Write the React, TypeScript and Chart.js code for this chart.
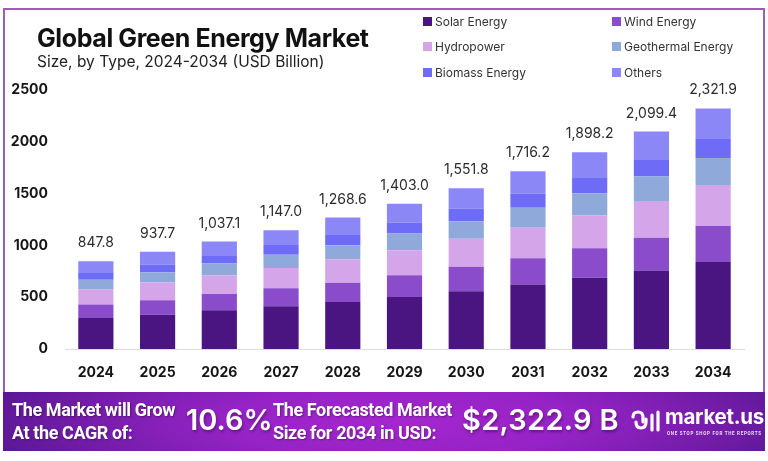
import React, { useEffect, useRef } from "react";
import { Chart, registerables } from "chart.js";

Chart.register(...registerables);

// Market size by type, USD billion
const years = ["2024", "2025", "2026", "2027", "2028", "2029", "2030", "2031", "2032", "2033", "2034"];
const solar = [300.3, 331.7, 373.1, 413.0, 454.6, 503.0, 556.8, 622.2, 688.2, 757.4, 838.9];
const wind = [130.0, 140.0, 157.0, 173.0, 184.0, 209.0, 238.0, 253.0, 284.0, 317.0, 348.0];
const hydro = [147.0, 170.0, 180.0, 196.0, 226.0, 240.0, 270.0, 294.0, 320.0, 354.0, 395.0];
const geothermal = [91.0, 98.0, 115.0, 127.0, 136.0, 162.0, 168.0, 195.0, 210.0, 236.0, 262.0];
const biomass = [72.0, 74.0, 81.0, 95.0, 107.0, 106.0, 124.0, 136.0, 155.0, 167.0, 183.0];
const others = [107.5, 124.0, 131.0, 143.0, 161.0, 183.0, 195.0, 216.0, 241.0, 268.0, 295.0];

const yTicks = [0, 500, 1000, 1500, 2000, 2500];

const seriesNames = ["Solar Energy", "Wind Energy", "Hydropower", "Geothermal Energy", "Biomass Energy", "Others"];
const seriesValues = [solar, wind, hydro, geothermal, biomass, others];
const seriesColors = ["#4b1581", "#8a4ccb", "#d4a6e9", "#8fa9da", "#6e6bf6", "#8b87f6"];

const cagr = "10.6%";
const forecast = "$2,322.9 B";

const fmt = (v: number) =>
  v.toLocaleString("en-US", { minimumFractionDigits: 1, maximumFractionDigits: 1 });

// Writes each stack's total above its top segment
const totalLabels = {
  id: "totalLabels",
  afterDatasetsDraw(chart: any) {
    const { ctx } = chart;
    const n = chart.data.datasets.length;
    const topMeta = chart.getDatasetMeta(n - 1);
    ctx.save();
    ctx.font = "400 14px Inter";
    ctx.fillStyle = "#2b2b2b";
    ctx.textAlign = "center";
    ctx.textBaseline = "alphabetic";
    years.forEach((_, i) => {
      const total = chart.data.datasets.reduce((s: number, d: any) => s + d.data[i], 0);
      const el = topMeta.data[i];
      ctx.fillText(fmt(total), el.x, el.y - 14);
    });
    ctx.restore();
  },
};

function StackedBars() {
  const ref = useRef<HTMLCanvasElement | null>(null);
  useEffect(() => {
    if (!ref.current) return;
    const tickFont = { family: "Inter", size: 14, weight: "bold" as const };
    const chart = new Chart(ref.current, {
      type: "bar",
      data: {
        labels: years,
        datasets: seriesNames.map((name, k) => ({
          label: name,
          data: seriesValues[k],
          backgroundColor: seriesColors[k],
          borderWidth: 0,
          barPercentage: 0.57,
          categoryPercentage: 1,
        })),
      },
      options: {
        responsive: false,
        animation: false,
        layout: { padding: { left: 0, right: 24, top: 90, bottom: 0 } },
        plugins: { legend: { display: false }, tooltip: { enabled: false } },
        scales: {
          x: {
            stacked: true,
            grid: { display: false, drawTicks: false },
            border: { display: true, color: "#dcdcdc", width: 1 },
            ticks: { padding: 15, color: "#151515", font: tickFont },
            afterFit: (s: any) => {
              s.height = 112;
            },
          },
          y: {
            stacked: true,
            min: 0,
            max: 2500,
            grid: { display: false, drawTicks: false },
            border: { display: false },
            ticks: {
              padding: 17,
              color: "#151515",
              font: tickFont,
              callback: (v: any) => String(v),
            },
            afterBuildTicks: (s: any) => {
              s.ticks = yTicks.map((v) => ({ value: v }));
            },
            afterFit: (s: any) => {
              s.width = 65;
            },
          },
        },
      },
      plugins: [totalLabels],
    });
    return () => chart.destroy();
  }, []);
  return <canvas ref={ref} width={768} height={461} style={{ position: "absolute", left: 0, top: 0 }} />;
}

function Legend() {
  const cols = [423, 612];
  const rows = [21, 46, 72];
  return (
    <>
      {seriesNames.map((name, k) => (
        <div
          key={name}
          style={{
            position: "absolute",
            left: cols[k % 2],
            top: rows[Math.floor(k / 2)] - 8,
            height: 16,
            display: "flex",
            alignItems: "center",
            font: "400 12px Inter",
            color: "#333",
            whiteSpace: "nowrap",
          }}
        >
          <span style={{ width: 9, height: 9, background: seriesColors[k], marginRight: 3, display: "inline-block" }} />
          {name}
        </div>
      ))}
    </>
  );
}

function Banner() {
  const white = "#ffffff";
  const shadow = "1px 1px 2px rgba(0,0,0,0.35)";
  const small: React.CSSProperties = {
    position: "absolute",
    color: white,
    font: "700 18px Roboto",
    lineHeight: "23px",
    whiteSpace: "nowrap",
    textShadow: shadow,
    letterSpacing: "-0.4px",
  };
  const big: React.CSSProperties = {
    position: "absolute",
    color: white,
    font: "600 29px Inter",
    lineHeight: "34px",
    whiteSpace: "nowrap",
    textShadow: "1px 2px 3px rgba(0,0,0,0.35)",
  };
  return (
    <div
      style={{
        position: "absolute",
        left: 3,
        top: 392,
        width: 762,
        height: 59,
        background: "radial-gradient(ellipse 58% 150% at 52% 50%, #a626cf 0%, #9523c6 40%, #6c1ba2 80%, #531690 100%)",
        overflow: "hidden",
      }}
    >
      <div style={{ ...small, left: 9, top: 6 }}>
        The Market will Grow
        <br />
        At the CAGR of:
      </div>
      <div style={{ ...big, left: 183, top: 11, letterSpacing: "0px" }}>{cagr}</div>
      <div style={{ ...small, left: 270, top: 6 }}>
        The Forecasted Market
        <br />
        Size for 2034 in USD:
      </div>
      <div style={{ ...big, left: 459, top: 11, letterSpacing: "0.3px" }}>{forecast}</div>
      <svg style={{ position: "absolute", left: 627, top: 17 }} width={32} height={26} viewBox="0 0 32 26">
        <path d="M3 8 Q3 3 8 3 Q13 3 13 8 L13 13" stroke={white} strokeWidth={3.2} fill="none" strokeLinecap="round" />
        <path d="M6 13 Q6 19 11 19 Q16 19 16 13 L16 10" stroke={white} strokeWidth={3.2} fill="none" strokeLinecap="round" />
        <line x1={22} y1={6} x2={22} y2={21} stroke={white} strokeWidth={3.2} strokeLinecap="round" />
        <line x1={28} y1={3} x2={28} y2={21} stroke={white} strokeWidth={3.2} strokeLinecap="round" />
      </svg>
      <div
        style={{
          position: "absolute",
          left: 662,
          top: 13,
          color: white,
          font: "700 20.5px Inter",
          lineHeight: "24px",
          letterSpacing: "-0.3px",
          whiteSpace: "nowrap",
        }}
      >
        market.us
      </div>
      <div
        style={{
          position: "absolute",
          left: 664,
          top: 39,
          color: "#eadcf2",
          font: "700 4.5px Roboto",
          letterSpacing: "0.7px",
          whiteSpace: "nowrap",
        }}
      >
        ONE STOP SHOP FOR THE REPORTS
      </div>
    </div>
  );
}

export default function App() {
  return (
    <div style={{ position: "absolute", left: 0, top: 0, width: 768, height: 461, background: "#fff", overflow: "hidden" }}>
      <div
        style={{
          position: "absolute",
          left: 3,
          top: 8,
          width: 758,
          height: 384,
          border: "2px solid #9d5bbb",
          borderBottom: "none",
        }}
      />
      <StackedBars />
      <div
        style={{
          position: "absolute",
          left: 37,
          top: 23,
          font: "700 25px Inter",
          color: "#111",
          letterSpacing: "-0.4px",
          whiteSpace: "nowrap",
        }}
      >
        Global Green Energy Market
      </div>
      <div
        style={{
          position: "absolute",
          left: 37,
          top: 52,
          font: "400 15.5px Inter",
          color: "#222",
          whiteSpace: "nowrap",
        }}
      >
        Size, by Type, 2024-2034 (USD Billion)
      </div>
      <Legend />
      <Banner />
    </div>
  );
}
